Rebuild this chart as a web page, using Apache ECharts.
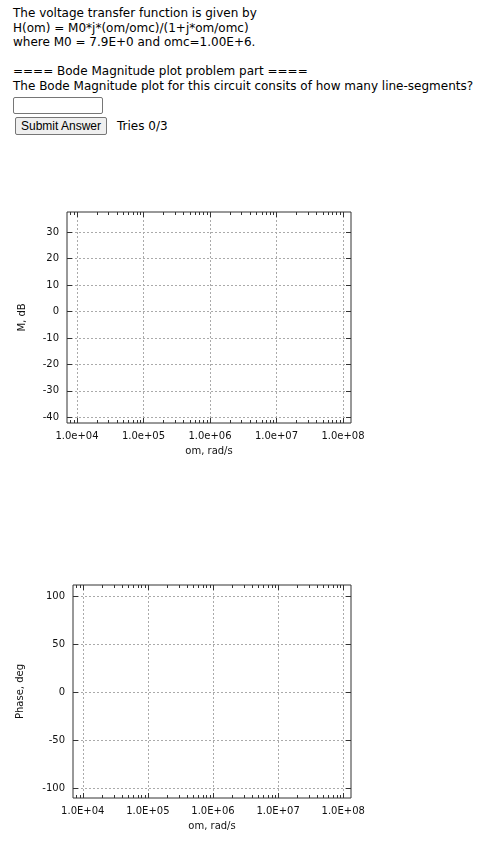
<!DOCTYPE html>
<html><head><meta charset="utf-8">
<script src="https://cdn.jsdelivr.net/npm/echarts@6/dist/echarts.min.js"></script>
<style>
body{margin:0;font-family:"DejaVu Sans",Verdana,sans-serif;font-size:12px;color:#000;background:#fff;}
#txt{position:absolute;left:13px;top:6px;line-height:14.5px;white-space:pre;}
#inp{position:absolute;left:13px;top:97px;width:88px;height:15px;border:1px solid #767676;border-radius:2px;}
#btn{position:absolute;left:15px;top:117px;height:18px;padding:0 5px;font-family:Arial,"Liberation Sans",sans-serif;font-size:12px;background:#efefef;border:1px solid #767676;border-radius:2px;}
#tries{position:absolute;left:117px;top:119px;}
.ch{position:absolute;left:0;width:370px;height:270px;}
</style></head><body>
<div id="txt">The voltage transfer function is given by
H(om) = M0*j*(om/omc)/(1+j*om/omc)
where M0 = 7.9E+0 and omc=1.00E+6.

==== Bode Magnitude plot problem part ====
The Bode Magnitude plot for this circuit consits of how many line-segments?</div>
<div id="inp"></div>
<button id="btn">Submit Answer</button>
<div id="tries">Tries 0/3</div>
<div id="c1" class="ch" style="top:200px"></div>
<div id="c2" class="ch" style="top:570px"></div>
<script>
const decadeExps = [4,5,6,7,8];
const magTicks = [-40,-30,-20,-10,0,10,20,30];
const phaseTicks = [-100,-50,0,50,100];
const magLabels = ["1.0e+04","1.0e+05","1.0e+06","1.0e+07","1.0e+08"];
const phaseLabels = ["1.0E+04","1.0E+05","1.0E+06","1.0E+07","1.0E+08"];
const magData = [];
const phaseData = [];

const minor = [];
for (let e = 3; e <= 8; e++) for (let k = 2; k <= 9; k++) { const v = e + Math.log10(k); if (v > 3.85 && v < 8.12) minor.push(v); }

function makeOpt(grid, ymin, ymax, yticks, xlabels, yname, data, nameGap) {
  const lbl = {fontFamily:"DejaVu Sans", fontSize:10, color:'#111'};
  const xBase = {type:'value', min:3.85, max:8.12, axisLine:{show:false, onZero:false}};
  const yBase = {type:'value', min:ymin, max:ymax, axisLine:{show:false, onZero:false}};
  const dotted = {show:true, lineStyle:{color:'#aaa', type:[2,2], width:1}};
  const tk = {color:'#333'};
  return {
    animation:false,
    grid:Object.assign({show:true, borderColor:'#333', borderWidth:1}, grid),
    xAxis:[
      Object.assign({}, xBase, {position:'bottom', name:'om, rad/s', nameLocation:'middle', nameGap:23,
        nameTextStyle:lbl,
        axisTick:{show:true, inside:true, length:5, customValues:decadeExps, lineStyle:tk},
        axisLabel:Object.assign({customValues:decadeExps, margin:8, formatter:(v)=>xlabels[decadeExps.indexOf(Math.round(v))]}, lbl),
        splitLine:dotted}),
      Object.assign({}, xBase, {position:'bottom', axisTick:{show:true, inside:true, length:3, customValues:minor, lineStyle:tk}, axisLabel:{show:false}, splitLine:{show:false}}),
      Object.assign({}, xBase, {position:'top', axisTick:{show:true, inside:true, length:5, customValues:decadeExps, lineStyle:tk}, axisLabel:{show:false}, splitLine:{show:false}}),
      Object.assign({}, xBase, {position:'top', axisTick:{show:true, inside:true, length:3, customValues:minor, lineStyle:tk}, axisLabel:{show:false}, splitLine:{show:false}})
    ],
    yAxis:[
      Object.assign({}, yBase, {position:'left', name:yname, nameLocation:'middle', nameGap:nameGap, nameTextStyle:lbl,
        axisTick:{show:true, inside:true, length:5, customValues:yticks, lineStyle:tk},
        axisLabel:Object.assign({customValues:yticks, margin:8}, lbl), splitLine:dotted}),
      Object.assign({}, yBase, {position:'right', axisTick:{show:true, inside:true, length:5, customValues:yticks, lineStyle:tk}, axisLabel:{show:false}, splitLine:{show:false}})
    ],
    series:[{type:'line', data:data, xAxisIndex:0, yAxisIndex:0, showSymbol:false}]
  };
}
echarts.init(document.getElementById('c1')).setOption(
  makeOpt({left:67, top:12, width:284, height:211}, -42.2, 37.7, magTicks, magLabels, 'M, dB', magData, 40));
echarts.init(document.getElementById('c2')).setOption(
  makeOpt({left:73, top:15, width:278, height:213}, -110, 111.4, phaseTicks, phaseLabels, 'Phase, deg', phaseData, 48));
</script>
</body></html>
